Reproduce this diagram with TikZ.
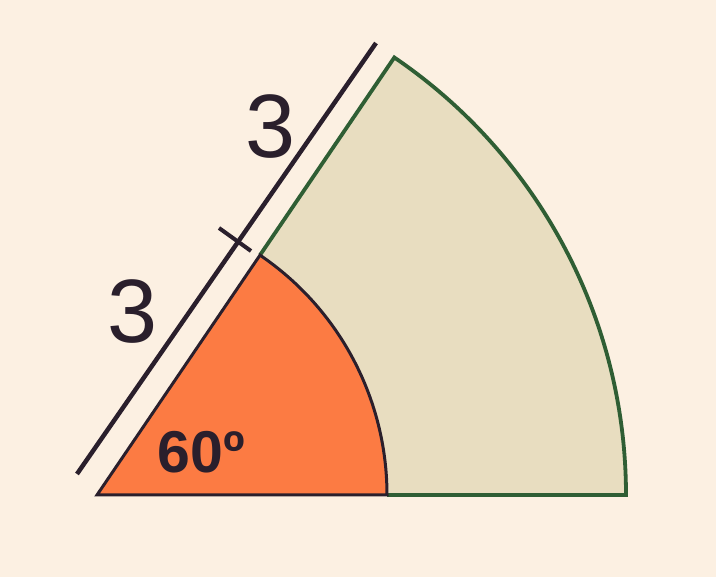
\documentclass[tikz,border=0pt]{standalone}
\usepackage{fontspec}
\setmainfont{Liberation Sans}
\usetikzlibrary{calc}
\definecolor{bg}{HTML}{FCF0E2}
\definecolor{ringfill}{HTML}{E8DDC0}
\definecolor{ringline}{HTML}{2F5E34}
\definecolor{sectorfill}{HTML}{FC7B43}
\definecolor{ink}{HTML}{2A1F2C}
\tikzset{
  ringstyle/.style={draw=ringline, line width=3.8pt, line join=miter},
  sectorstyle/.style={fill=sectorfill, draw=ink, line width=3pt, line join=miter},
  measure/.style={draw=ink, line width=4.5pt},
  biglabel/.style={text=ink, font=\fontsize{90}{90}\selectfont, inner sep=0pt},
  anglelabel/.style={text=ink, font=\bfseries\fontsize{59}{59}\selectfont, inner sep=0pt}
}
\begin{document}
\begin{tikzpicture}[x=1pt,y=1pt]
\fill[bg] (0,0) rectangle (716,577);
\useasboundingbox (0,0) rectangle (716,577);
\coordinate (O) at (97,82);
\def\ang{55.8}
\coordinate (I0) at ($(O)+(0:290)$);
\coordinate (I1) at ($(O)+(\ang:290)$);
\coordinate (E0) at ($(O)+(0:529)$);
\coordinate (E1) at ($(O)+(\ang:529)$);
% outer ring
\fill[ringfill] (O) -- (E0) arc (0:\ang:529) -- cycle;
\draw[ringstyle] (I1) -- (E1) arc (\ang:0:529) -- (I0);
% inner sector
\filldraw[sectorstyle] (O) -- (I0) arc (0:\ang:290) -- cycle;
% measuring line
\coordinate (L0) at (77,103);
\coordinate (L1) at (376,534);
\draw[measure] (L0) -- (L1);
\coordinate (T0) at (219,349);
\coordinate (T1) at (251,326);
\draw[draw=ink, line width=4pt] (T0) -- (T1);
% labels
\node[biglabel] (lup) at (271,450) {3};
\node[biglabel] (llow) at (133,265) {3};
\node[anglelabel] (lang) at (201,125) {60º};
\end{tikzpicture}
\end{document}
